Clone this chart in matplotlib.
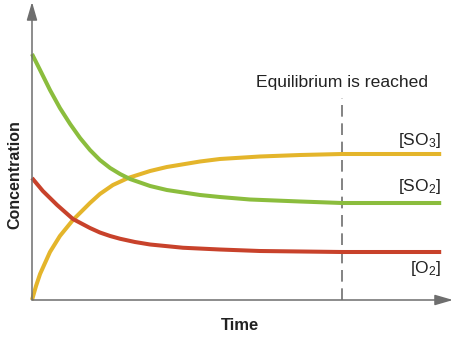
import matplotlib.pyplot as plt
import numpy as np

plt.rcParams['font.family'] = ['Liberation Sans', 'DejaVu Sans']
plt.rcParams['mathtext.fontset'] = 'custom'
plt.rcParams['mathtext.rm'] = 'Liberation Sans'
plt.rcParams['mathtext.default'] = 'regular'

# values (arbitrary units)
t_so2 = [0, 0.26, 0.58, 0.9, 1.23, 1.55, 1.87, 2.19, 2.52, 2.84, 3.16, 3.81, 4.35, 5.42, 6.06, 7.03, 8.65, 10, 13.2]
so2 = [9.84, 9.2, 8.4, 7.68, 7.04, 6.48, 6.0, 5.6, 5.28, 5.04, 4.84, 4.56, 4.4, 4.2, 4.12, 4.02, 3.94, 3.88, 3.88]

t_o2 = [0, 0.35, 0.81, 1.32, 1.87, 2.19, 2.52, 2.84, 3.32, 3.81, 4.87, 6.06, 7.35, 10, 13.2]
o2 = [4.88, 4.36, 3.8, 3.24, 2.88, 2.7, 2.56, 2.45, 2.32, 2.22, 2.09, 2.02, 1.96, 1.92, 1.92]

t_so3 = [0, 0.13, 0.26, 0.58, 0.9, 1.32, 1.87, 2.19, 2.61, 3.1, 3.81, 4.35, 5.42, 6.06, 7.35, 8.65, 10, 13.2]
so3 = [0, 0.56, 1.04, 1.92, 2.56, 3.2, 3.88, 4.24, 4.6, 4.88, 5.16, 5.32, 5.54, 5.64, 5.74, 5.8, 5.84, 5.84]

t_eq = 10
eq_top = 8.08

fig = plt.figure(figsize=(4.74, 3.38), dpi=100)
ax = fig.add_axes([0, 0, 1, 1])
ax.set_xlim(-32 / 31, 442 / 31)
ax.set_ylim(-38 / 25, 12)
ax.axis('off')

gray = '#6e6e6e'
ax.plot([t_eq, t_eq], [0, eq_top], color=gray, lw=1.2, dashes=(7, 4))

ax.plot(t_so3, so3, color='#e4b52b', lw=2.9, solid_capstyle='butt', solid_joinstyle='round')
ax.plot(t_so2, so2, color='#8bbd3d', lw=2.9, solid_capstyle='butt', solid_joinstyle='round')
ax.plot(t_o2, o2, color='#c8422b', lw=2.9, solid_capstyle='butt', solid_joinstyle='round')

# axes with arrowheads
arrow = dict(arrowstyle='-|>,head_length=1.1,head_width=0.32', color=gray, lw=1.1,
             mutation_scale=10, shrinkA=0, shrinkB=0)
ax.annotate('', xy=(0, 11.92), xytext=(0, 0), arrowprops=arrow)
ax.annotate('', xy=(421 / 31, 0), xytext=(0, 0), arrowprops=arrow)

ax.text(t_eq, 8.68, 'Equilibrium is reached', ha='center', va='center', fontsize=12.6, color='#222222')
ax.text(13.2, 6.4, '[SO$_3$]', ha='right', va='center', fontsize=12.5, color='#222222')
ax.text(13.2, 4.52, '[SO$_2$]', ha='right', va='center', fontsize=12.5, color='#222222')
ax.text(13.2, 1.28, '[O$_2$]', ha='right', va='center', fontsize=12.5, color='#222222')

ax.text(208 / 31, -25 / 25, 'Time', ha='center', va='center', fontsize=12, fontweight='bold', color='#222222')
ax.text(-17 / 31, 125 / 25, 'Concentration', ha='center', va='center', rotation=90,
        fontsize=11.5, fontweight='bold', color='#222222')

fig.savefig('out.png', dpi=100)
